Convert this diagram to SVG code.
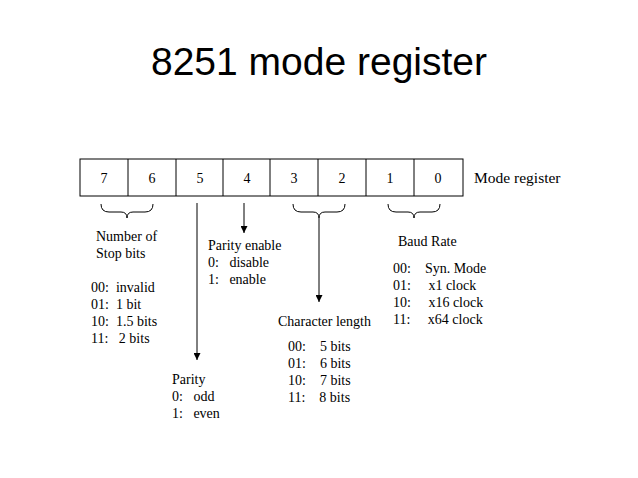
<svg xmlns="http://www.w3.org/2000/svg" width="638" height="478" viewBox="0 0 638 478">
<style>
.t{font-family:"Liberation Serif",serif;font-size:14px;fill:#000;white-space:pre}
.c{text-anchor:middle}
.l{stroke:#000;stroke-width:1;fill:none}
</style>
<defs>
<marker id="b" viewBox="0 0 8 8" markerWidth="7" markerHeight="7" refX="8" refY="4" orient="auto"><path d="M0,0 L8,4 L0,8 Z" fill="#000"/></marker></defs>
<rect width="638" height="478" fill="#fff"/>
<text x="319" y="75" text-anchor="middle" style="font-family:'Liberation Sans',sans-serif;font-size:39px">8251 mode register</text>
<g id="register">
<rect x="80" y="159" width="383" height="37" class="l"/>
<path class="l" d="M128,159V196M176,159V196M223,159V196M270,159V196M318,159V196M366,159V196M414,159V196"/>
<text class="t c" x="104" y="183">7</text><text class="t c" x="152" y="183">6</text><text class="t c" x="200" y="183">5</text><text class="t c" x="247" y="183">4</text><text class="t c" x="294" y="183">3</text><text class="t c" x="342" y="183">2</text><text class="t c" x="390" y="183">1</text><text class="t c" x="438" y="183">0</text>
<text class="t" x="474" y="183" style="font-size:15.5px">Mode register</text>
</g>
<g id="connectors">
<path class="l" d="M101,204Q101,212 109,212H121Q127,212 127,218Q127,212 133,212H145Q153,212 153,204"/>
<path class="l" d="M293,204Q293,212 301,212H313Q319,212 319,218Q319,212 325,212H337Q345,212 345,204"/>
<path class="l" d="M388,204Q388,212 396,212H408Q414,212 414,218Q414,212 420,212H432Q440,212 440,204"/>
<line class="l" x1="197" y1="203" x2="197" y2="360" marker-end="url(#b)"/>
<line class="l" x1="244" y1="203" x2="244" y2="233" marker-end="url(#b)"/>
<line class="l" x1="319" y1="218" x2="319" y2="302" marker-end="url(#b)"/>
</g>
<g id="stop">
<text class="t" x="96" y="241">Number of</text><text class="t" x="96" y="258">Stop bits</text>
<text class="t" x="91" y="292">00:  invalid</text><text class="t" x="91" y="309">01:  1 bit</text><text class="t" x="91" y="326">10:  1.5 bits</text><text class="t" x="91" y="343">11:   2 bits</text>
</g>
<g id="parityenable">
<text class="t" x="208" y="250">Parity enable</text><text class="t" x="208" y="267">0:   disable</text><text class="t" x="208" y="284">1:   enable</text>
</g>
<g id="parity">
<text class="t" x="172" y="384">Parity</text><text class="t" x="172" y="401">0:   odd</text><text class="t" x="172" y="418">1:   even</text>
</g>
<g id="charlen">
<text class="t" x="278" y="326">Character length</text>
<text class="t" x="288" y="351">00:    5 bits</text><text class="t" x="288" y="368">01:    6 bits</text><text class="t" x="288" y="385">10:    7 bits</text><text class="t" x="288" y="402">11:    8 bits</text>
</g>
<g id="baud">
<text class="t" x="398" y="246">Baud Rate</text>
<text class="t" x="393" y="273">00:    Syn. Mode</text><text class="t" x="393" y="290">01:     x1 clock</text><text class="t" x="393" y="307">10:     x16 clock</text><text class="t" x="393" y="324">11:     x64 clock</text>
</g>
</svg>
